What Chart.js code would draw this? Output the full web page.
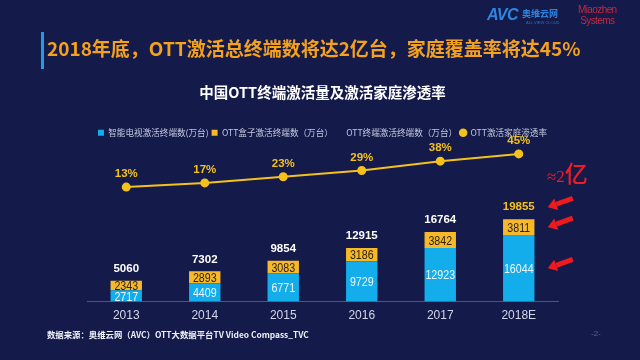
<!DOCTYPE html>
<html>
<head>
<meta charset="utf-8">
<script src="https://cdn.jsdelivr.net/npm/chart.js@4.4.1/dist/chart.umd.min.js"></script>
<style>
html,body{margin:0;padding:0;background:#141a4a;}
#wrap{position:relative;width:640px;height:360px;overflow:hidden;background:#141a4a;font-family:"Noto Sans CJK SC","Noto Sans",sans-serif;}
#c{position:absolute;left:0;top:0;}
.accent{position:absolute;left:41px;top:32px;width:3px;height:37px;background:#1f9de4;}
.hdr{position:absolute;left:47px;top:35px;font-size:19px;font-weight:700;color:#f4a11e;white-space:nowrap;line-height:26px;}
.avc{position:absolute;left:487px;top:6px;font:italic 700 16px "Liberation Sans",sans-serif;color:#2d86e0;letter-spacing:-0.5px;}
.avccn{position:absolute;left:522px;top:8px;font-size:9px;font-weight:700;color:#2d86e0;white-space:nowrap;line-height:11px;}
.avcen{position:absolute;left:526px;top:20px;font:4px "Liberation Sans",sans-serif;color:#2d6fc0;white-space:nowrap;}
.mz{position:absolute;left:578px;top:4px;font:10px/11px "Liberation Sans",sans-serif;color:#c8283c;text-align:center;letter-spacing:-0.6px;}
.approx{position:absolute;left:547px;top:158px;color:#ee1c24;white-space:nowrap;line-height:28px;}
.approx .a{font:17px "Liberation Serif",serif;}
.approx .b{font-size:23px;font-weight:500;font-family:"Noto Sans CJK SC";}
.src{position:absolute;left:47px;top:327px;font-size:8.4px;font-weight:700;color:#eef0f8;white-space:nowrap;line-height:14px;}
.pg{position:absolute;left:591px;top:327px;font:8px/14px "Liberation Sans",sans-serif;color:#5d6394;}
</style>
</head>
<body>
<div id="wrap">
  <canvas id="c" width="640" height="360"></canvas>
  <div class="accent"></div>
  <div class="hdr">2018年底，OTT激活总终端数将达2亿台，家庭覆盖率将达45%</div>
  <div class="avc">AVC</div>
  <div class="avccn">奥维云网</div>
  <div class="avcen">ALL VIEW CLOUD</div>
  <div class="mz">Miaozhen<br>Systems</div>
  <div class="approx"><span class="a">≈2</span><span class="b">亿</span></div>
  <div class="src">数据来源：奥维云网（AVC）OTT大数据平台TV Video Compass_TVC</div>
  <div class="pg">-2-</div>
</div>
<script>
// ---- data ----
const categories = ['2013', '2014', '2015', '2016', '2017', '2018E'];
const smartTvActive = [2717, 4409, 6771, 9729, 12923, 16044];
const ottBoxActive = [2343, 2893, 3083, 3186, 3842, 3811];
const ottTotalActive = [5060, 7302, 9854, 12915, 16764, 19855];
const householdPenetration = [13, 17, 23, 29, 38, 45];
const seriesNames = ['智能电视激活终端数(万台)', 'OTT盒子激活终端数（万台）', 'OTT终端激活终端数（万台）', 'OTT激活家庭渗透率'];
const chartTitle = '中国OTT终端激活量及激活家庭渗透率';

const BLUE = '#13adeb';
const ORANGE = '#f7b92a';
const GOLD = '#f5c21c';
const SANS = '"Liberation Sans",sans-serif';

function narrowText(ctx, txt, x, y, sx) {
  ctx.save();
  ctx.translate(x, y);
  ctx.scale(sx, 1);
  ctx.fillText(txt, 0, 0);
  ctx.restore();
}

const labelPlugin = {
  id: 'valueLabels',
  afterDatasetsDraw(chart) {
    const ctx = chart.ctx;
    const mBlue = chart.getDatasetMeta(0);
    const mOrange = chart.getDatasetMeta(1);
    const mTotal = chart.getDatasetMeta(2);
    const mPen = chart.getDatasetMeta(3);
    const last = categories.length - 1;
    ctx.save();
    ctx.textAlign = 'center';
    ctx.textBaseline = 'middle';
    ctx.font = '13px ' + SANS;
    mBlue.data.forEach((el, i) => {
      ctx.fillStyle = '#eaf7ff';
      narrowText(ctx, String(smartTvActive[i]), el.x, (el.y + el.base) / 2 + 1, 0.82);
    });
    mOrange.data.forEach((el, i) => {
      ctx.fillStyle = '#2b2410';
      narrowText(ctx, String(ottBoxActive[i]), el.x, (el.y + el.base) / 2 + 1, 0.82);
    });
    ctx.font = 'bold 11.5px ' + SANS;
    mTotal.data.forEach((el, i) => {
      ctx.fillStyle = i === last ? GOLD : '#ffffff';
      ctx.fillText(String(ottTotalActive[i]), el.x, el.y - 12);
    });
    mPen.data.forEach((el, i) => {
      ctx.fillStyle = GOLD;
      ctx.fillText(householdPenetration[i] + '%', el.x, el.y - 13);
    });
    // red arrows pointing at the 2018E values
    const bx = mBlue.data[last].x;
    const targets = [
      mTotal.data[last].y - 12,
      (mOrange.data[last].y + mOrange.data[last].base) / 2,
      (mBlue.data[last].y + mBlue.data[last].base) / 2
    ];
    ctx.fillStyle = '#ee1a1f';
    ctx.strokeStyle = '#ee1a1f';
    targets.forEach(ty => {
      const tipX = bx + 29, tipY = ty;
      const tailX = bx + 54, tailY = ty - 9;
      const ang = Math.atan2(tailY - tipY, tailX - tipX);
      const headLen = 9, headW = 6;
      const hx = tipX + Math.cos(ang) * headLen, hy = tipY + Math.sin(ang) * headLen;
      ctx.lineWidth = 5;
      ctx.beginPath();
      ctx.moveTo(hx, hy);
      ctx.lineTo(tailX, tailY);
      ctx.stroke();
      ctx.beginPath();
      ctx.moveTo(tipX, tipY);
      ctx.lineTo(hx - Math.sin(ang) * headW, hy + Math.cos(ang) * headW);
      ctx.lineTo(hx + Math.sin(ang) * headW, hy - Math.cos(ang) * headW);
      ctx.closePath();
      ctx.fill();
    });
    ctx.restore();
  }
};

new Chart(document.getElementById('c'), {
  data: {
    labels: categories,
    datasets: [
      { type: 'bar', label: seriesNames[0], data: smartTvActive, backgroundColor: BLUE, stack: 'act',
        barPercentage: 0.4, categoryPercentage: 1.0, yAxisID: 'y' },
      { type: 'bar', label: seriesNames[1], data: ottBoxActive, backgroundColor: ORANGE, stack: 'act',
        barPercentage: 0.4, categoryPercentage: 1.0, yAxisID: 'y' },
      { type: 'line', label: seriesNames[2], data: ottTotalActive, showLine: false, pointRadius: 0,
        borderColor: 'rgba(0,0,0,0)', backgroundColor: 'rgba(0,0,0,0)', stack: 'totals', yAxisID: 'y' },
      { type: 'line', label: seriesNames[3], data: householdPenetration, borderColor: GOLD, backgroundColor: GOLD,
        borderWidth: 2, pointRadius: 3.5, pointBackgroundColor: GOLD, pointBorderColor: GOLD, tension: 0, yAxisID: 'y1' }
    ]
  },
  options: {
    responsive: false,
    animation: false,
    events: [],
    layout: { padding: { left: 87, right: 82, top: 84, bottom: 30 } },
    scales: {
      x: {
        stacked: true,
        grid: { display: false, drawTicks: false },
        border: { display: true, color: '#4d5488', width: 1 },
        ticks: { color: '#d3d7ea', font: { size: 12, family: SANS }, padding: 7 }
      },
      y: { display: false, stacked: true, min: 0, max: 37300 },
      y1: { display: false, min: -97.6, max: 51.7 }
    },
    plugins: {
      title: {
        display: true, text: chartTitle, color: '#ffffff',
        font: { size: 14.5, weight: 'bold', family: '"Noto Sans CJK SC"' },
        padding: { top: 0, bottom: 24 }
      },
      legend: {
        display: true,
        labels: {
          color: '#c3c8de',
          font: { size: 8.6, family: '"Noto Sans CJK SC"' },
          usePointStyle: true, boxWidth: 6, boxHeight: 6, padding: 3,
          generateLabels(chart) {
            const items = Chart.defaults.plugins.legend.labels.generateLabels(chart);
            items.forEach((it, i) => {
              it.lineWidth = 0;
              it.fontColor = '#c3c8de';
              if (i === 0) { it.pointStyle = 'rect'; it.fillStyle = BLUE; it.strokeStyle = BLUE; }
              if (i === 1) { it.pointStyle = 'rect'; it.fillStyle = ORANGE; it.strokeStyle = ORANGE; }
              if (i === 2) { it.pointStyle = 'rect'; it.fillStyle = 'rgba(0,0,0,0)'; it.strokeStyle = 'rgba(0,0,0,0)'; }
              if (i === 3) { it.pointStyle = 'circle'; it.fillStyle = GOLD; it.strokeStyle = GOLD; }
            });
            return items;
          }
        }
      },
      tooltip: { enabled: false }
    }
  },
  plugins: [labelPlugin]
});
</script>
</body>
</html>
